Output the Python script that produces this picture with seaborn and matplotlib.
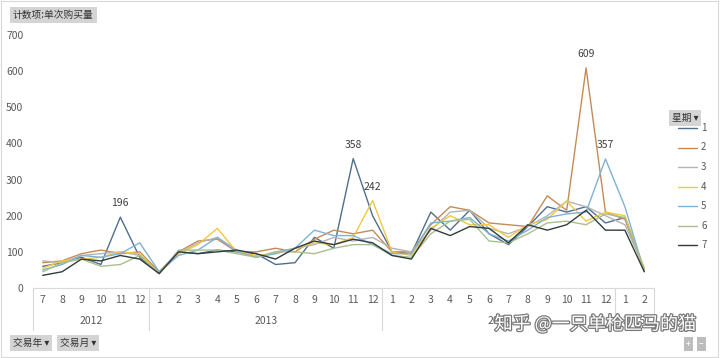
import numpy as np
import pandas as pd
import seaborn as sns
import matplotlib.pyplot as plt
import matplotlib.patheffects as pe
from matplotlib.patches import Rectangle

# month labels (交易年 / 交易月)
years = ['2012', '2013', '2014', '2015']
year_months = [[7, 8, 9, 10, 11, 12],
               list(range(1, 13)),
               list(range(1, 13)),
               [1, 2]]
weekdays = ['1', '2', '3', '4', '5', '6', '7']

# 计数项:单次购买量 per weekday (星期)
s1 = [60, 70, 85, 65, 196, 85,
      40, 100, 95, 105, 100, 95, 65, 70, 140, 110, 358, 200,
      100, 95, 210, 160, 215, 150, 120, 170, 225, 210, 225, 180,
      195, 50]
s2 = [70, 75, 95, 105, 95, 100,
      45, 100, 130, 135, 100, 100, 110, 100, 135, 160, 150, 160,
      100, 100, 175, 225, 215, 180, 175, 170, 255, 215, 609, 210,
      190, 50]
s3 = [75, 70, 90, 95, 100, 90,
      40, 95, 125, 140, 105, 85, 100, 110, 120, 140, 130, 140,
      110, 100, 160, 210, 215, 165, 150, 170, 200, 240, 225, 200,
      175, 55]
s4 = [55, 75, 80, 85, 100, 95,
      40, 95, 120, 165, 100, 90, 95, 110, 125, 120, 140, 242,
      100, 90, 165, 200, 175, 175, 140, 175, 190, 240, 185, 210,
      200, 55]
s5 = [50, 65, 90, 85, 95, 125,
      45, 90, 105, 140, 100, 85, 95, 110, 160, 145, 145, 120,
      95, 95, 180, 185, 195, 150, 130, 160, 195, 205, 210, 357,
      225, 45]
s6 = [45, 70, 80, 60, 65, 90,
      40, 105, 105, 105, 95, 85, 100, 100, 95, 110, 120, 120,
      90, 85, 150, 185, 190, 130, 125, 150, 180, 185, 175, 205,
      195, 50]
s7 = [35, 45, 80, 75, 90, 80,
      40, 100, 95, 100, 105, 95, 80, 110, 130, 120, 135, 125,
      90, 80, 165, 145, 170, 165, 125, 175, 160, 175, 215, 160,
      160, 45]
series = [s1, s2, s3, s4, s5, s6, s7]

month_labels = [str(m) for ms in year_months for m in ms]
n = len(month_labels)

df = pd.DataFrame({
    'idx': np.tile(np.arange(n), len(weekdays)),
    '单次购买量': np.concatenate(series),
    '星期': np.repeat(weekdays, n),
})

palette = {'1': '#4f6f8f', '2': '#c58b55', '3': '#b4b4b4', '4': '#f2c744',
           '5': '#7fb2d4', '6': '#a9c08c', '7': '#2f3d3d'}

sns.set_style('white')
plt.rcParams['font.family'] = ['Noto Sans CJK SC', 'DejaVu Sans']

fig = plt.figure(figsize=(7.2, 3.58), dpi=100)
ax = fig.add_axes([33 / 720, 70 / 358, 621 / 720, 253 / 358])

sns.lineplot(data=df, x='idx', y='单次购买量', hue='星期', palette=palette,
             linewidth=1.0, legend=False, ax=ax)

ax.set_xlim(-0.5, n - 0.5)
ax.set_ylim(0, 700)
ax.set_yticks(range(0, 701, 100))
ax.tick_params(axis='y', length=0, labelsize=7.5, labelcolor='#595959', pad=7)
ax.set_xticks(range(n))
ax.set_xticklabels(month_labels)
ax.tick_params(axis='x', length=0, labelsize=7.5, labelcolor='#595959', pad=5)
ax.set_xlabel('')
ax.set_ylabel('')
for side in ['top', 'left', 'right']:
    ax.spines[side].set_visible(False)
ax.spines['bottom'].set_color('#d9d9d9')
ax.spines['bottom'].set_linewidth(0.8)

# multi-level category axis: year groups and separators
trans = ax.get_xaxis_transform()
start = 0
bounds = [-0.5]
for y, ms in zip(years, year_months):
    end = start + len(ms)
    ax.text((start + end - 1) / 2, -0.13, y, transform=trans, ha='center',
            va='center', fontsize=7.5, color='#595959')
    bounds.append(end - 0.5)
    start = end
for b in bounds:
    ax.plot([b, b], [0, -0.165], transform=trans, color='#d9d9d9',
            linewidth=0.8, clip_on=False)

# data labels on peaks
peaks = [(0, 4), (0, 16), (3, 17), (1, 28), (4, 29)]
for si, xi in peaks:
    v = series[si][xi]
    ax.annotate(str(v), (xi, v), xytext=(0, 10), textcoords='offset points',
                ha='center', va='center', fontsize=7.5, color='#404040')

# legend
fig.text(0.9333, 0.67, '星期 ▾', fontsize=7, color='#333333', va='center',
         bbox=dict(boxstyle='square,pad=0.3', fc='#d4d4d4', ec='none'))
for i, w in enumerate(weekdays):
    yy = 1 - (128 + i * 19.5) / 358
    fig.add_artist(plt.Line2D([678 / 720, 697 / 720], [yy, yy],
                              color=palette[w], linewidth=1.0))
    fig.text(701 / 720, yy, w, fontsize=7, color='#595959', va='center')

# pivot field buttons
fig.text(13 / 720, 1 - 15 / 358, '计数项:单次购买量', fontsize=7, color='#333333',
         va='center', bbox=dict(boxstyle='square,pad=0.3', fc='#d4d4d4', ec='none'))
fig.text(13 / 720, 1 - 343 / 358, '交易年 ▾', fontsize=7, color='#333333',
         va='center', bbox=dict(boxstyle='square,pad=0.3', fc='#d4d4d4', ec='none'))
fig.text(60 / 720, 1 - 343 / 358, '交易月 ▾', fontsize=7, color='#333333',
         va='center', bbox=dict(boxstyle='square,pad=0.3', fc='#d4d4d4', ec='none'))
fig.text(686 / 720, 1 - 344 / 358, '+', fontsize=6, color='#ffffff', va='center',
         bbox=dict(boxstyle='square,pad=0.25', fc='#bdbdbd', ec='none'))
fig.text(699 / 720, 1 - 344 / 358, '−', fontsize=6, color='#ffffff', va='center',
         bbox=dict(boxstyle='square,pad=0.25', fc='#bdbdbd', ec='none'))

# watermark
fig.text(595 / 720, 1 - 324 / 358, '知乎 @一只单枪匹马的猫', fontsize=13,
         color='white', ha='center', va='center',
         path_effects=[pe.withStroke(linewidth=1.8, foreground='#7a7a7a')])

# chart border
fig.add_artist(Rectangle((0.002, 0.003), 0.995, 0.994, transform=fig.transFigure,
                         fill=False, edgecolor='#d9d9d9', linewidth=0.8))

fig.savefig('out.png', dpi=100)
